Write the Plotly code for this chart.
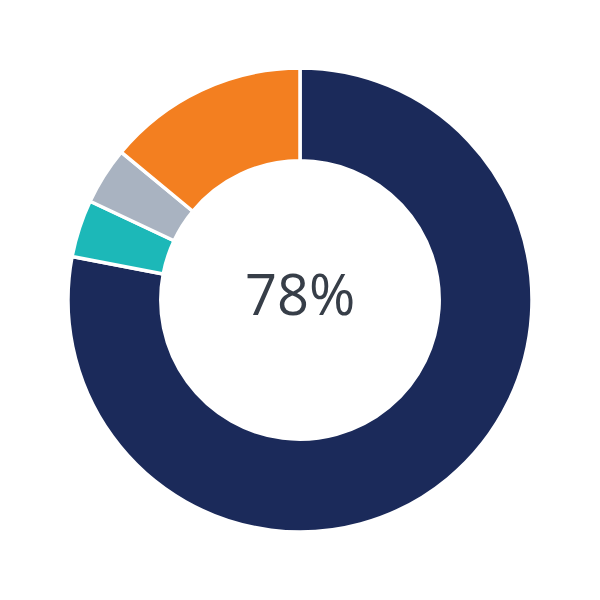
import plotly.graph_objects as go

# slice data, clockwise from 12 o'clock
labels = ["Main", "Teal", "Grey", "Orange"]
values = [78, 4, 4, 14]
colors = ["#1b2a5a", "#1cb8b8", "#a9b3c1", "#f37f20"]
center_label = "78%"

fig = go.Figure(
    go.Pie(
        labels=labels,
        values=values,
        hole=0.6,
        sort=False,
        direction="clockwise",
        rotation=0,
        marker=dict(colors=colors, line=dict(color="white", width=3.5)),
        textinfo="none",
        hoverinfo="label+percent",
        showlegend=False,
    )
)

# page body adds an 8px offset, so the margins are shifted to keep the ring centred
fig.update_layout(
    width=600,
    height=600,
    margin=dict(l=60, r=76, t=60, b=76),
    paper_bgcolor="white",
    plot_bgcolor="white",
    annotations=[
        dict(
            text=center_label,
            x=0.5,
            y=0.515,
            xref="paper",
            yref="paper",
            showarrow=False,
            font=dict(family="Open Sans", size=56, color="#373e48"),
        )
    ],
)

fig.write_html("out.html")
